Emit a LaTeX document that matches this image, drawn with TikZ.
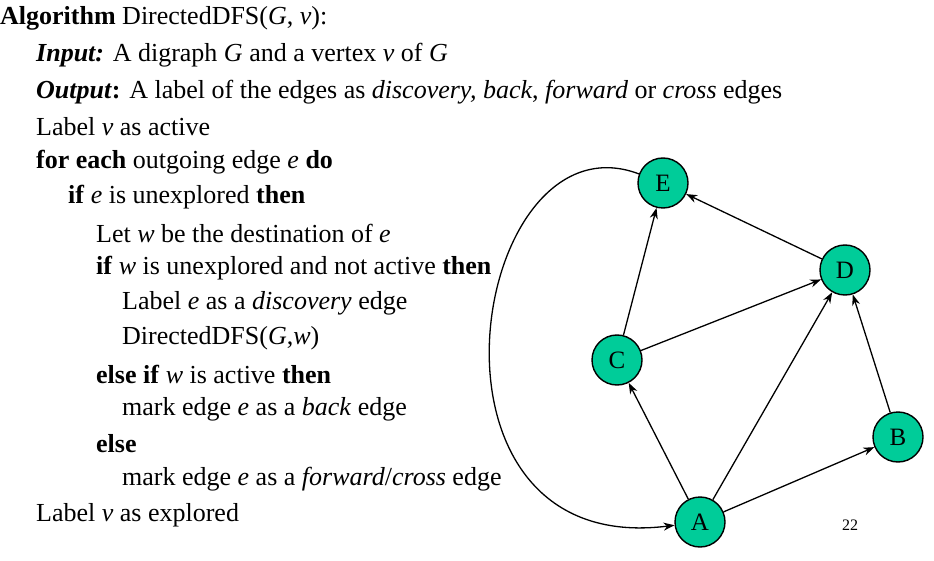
\documentclass[tikz,border=0pt]{standalone}
\usepackage{fontspec}
\setmainfont{Liberation Serif}
\usetikzlibrary{arrows.meta}
\definecolor{vertexgreen}{RGB}{0,204,153}
\tikzset{
  vertex/.style={circle,draw,line width=1.4pt,fill=vertexgreen,minimum size=50pt,inner sep=0pt,font=\fontsize{25}{25}\selectfont},
  line/.style={anchor=west,inner sep=0pt,font=\fontsize{26}{26}\selectfont},
  edge/.style={-{Stealth[length=11pt,width=8pt]},line width=1.3pt}
}
\newcommand{\mv}[1]{\textit{#1}}

\begin{document}
\begin{tikzpicture}[x=1pt,y=-1pt]
\useasboundingbox (0,0) rectangle (934,561);
% pseudocode
\node[line] (l1) at (0,18) {\textbf{Algorithm} DirectedDFS(\mv{G}, \mv{v}):};
\node[line] (l2) at (36,55) {\textbf{\textit{Input:}} A digraph \mv{G} and a vertex \mv{v} of \mv{G}};
\node[line] (l3) at (36,92) {\textbf{\textit{Output}:} A label of the edges as \textit{discovery, back}, \textit{forward} or \textit{cross} edges};
\node[line] (l4) at (36,127) {Label \mv{v} as active};
\node[line] (l5) at (36,162) {\textbf{for each} outgoing edge \mv{e} \textbf{do}};
\node[line] (l6) at (68,197) {\textbf{if} \mv{e} is unexplored \textbf{then}};
\node[line] (l7) at (96,233) {Let \mv{w} be the destination of \mv{e}};
\node[line] (l8) at (96,268) {\textbf{if} \mv{w} is unexplored and not active \textbf{then}};
\node[line] (l9) at (122,303) {Label \mv{e} as a \textit{discovery} edge};
\node[line] (l10) at (122,338) {DirectedDFS(\mv{G},\mv{w})};
\node[line] (l11) at (96,374) {\textbf{else if} \mv{w} is active \textbf{then}};
\node[line] (l12) at (122,409) {mark edge \mv{e} as a \textit{back} edge};
\node[line] (l13) at (96,444) {\textbf{else}};
\node[line] (l14) at (122,479) {mark edge \mv{e} as a \textit{forward}/\textit{cross} edge};
\node[line] (l15) at (36,515) {Label \mv{v} as explored};
% digraph
\node[vertex] (E) at (663,183) {E};
\node[vertex] (D) at (845,270) {D};
\node[vertex] (C) at (617,360) {C};
\node[vertex] (B) at (898,437) {B};
\node[vertex] (A) at (700,522) {A};
\draw[edge] (A) -- (C);
\draw[edge] (A) -- (D);
\draw[edge] (A) -- (B);
\draw[edge] (C) -- (E);
\draw[edge] (C) -- (D);
\draw[edge] (B) -- (D);
\draw[edge] (D) -- (E);
\draw[edge] (E) .. controls (470,110) and (400,560) .. (A);
\node[font=\fontsize{16}{16}\selectfont] (pg) at (850,525) {22};
\end{tikzpicture}
\end{document}
